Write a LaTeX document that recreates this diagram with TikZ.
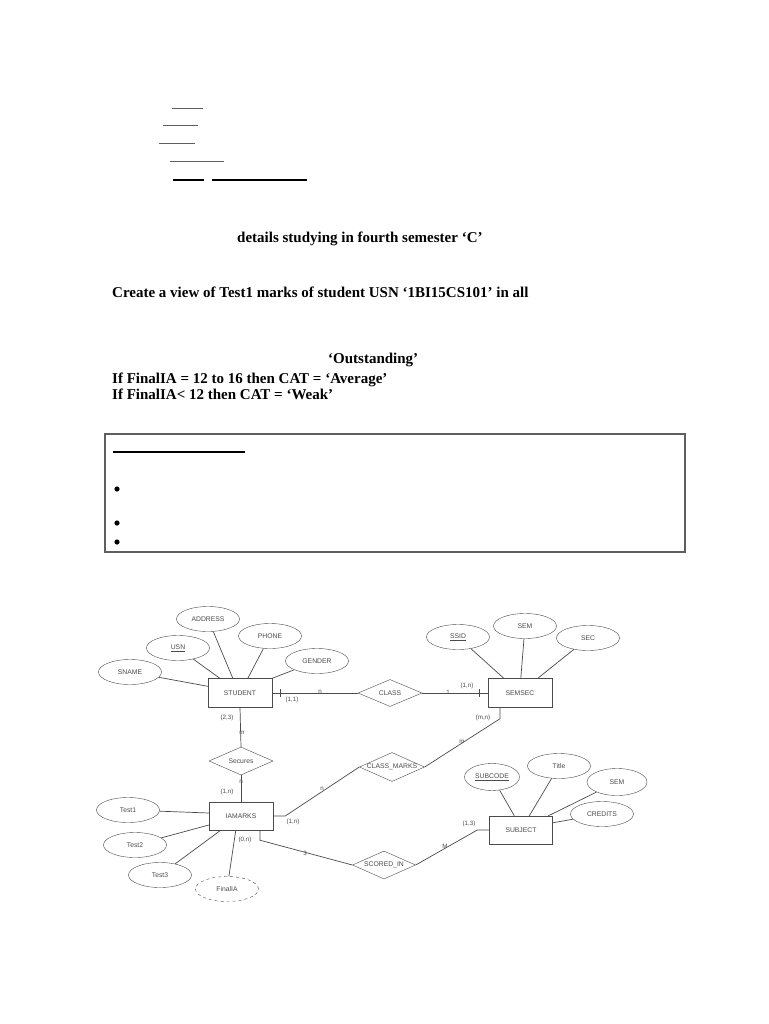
\documentclass[tikz,border=0pt]{standalone}
\usepackage{fontspec}
\setmainfont{Liberation Serif}
\newfontfamily\erfont{Liberation Sans}
\usetikzlibrary{shapes.geometric}
\definecolor{ink}{RGB}{75,75,75}
\definecolor{rulegray}{RGB}{95,95,95}
\newcommand{\drawthick}{\draw[line width=1.6pt]}
\newcommand{\erfontsize}{\erfont\fontsize{6.8}{7}\selectfont}
\tikzset{
  entity/.style={draw=ink, rectangle, minimum width=64pt, minimum height=29pt, inner sep=0pt, font=\erfontsize, text=ink},
  attrib/.style={draw=ink, ellipse, minimum width=63pt, minimum height=25pt, inner sep=0pt, font=\erfontsize, text=ink},
  relship/.style={draw=ink, diamond, aspect=2.3, minimum width=64pt, minimum height=28pt, inner sep=0pt, font=\erfontsize, text=ink},
  card/.style={font=\erfont\fontsize{6.2}{7}\selectfont, text=ink, inner sep=0pt},
  task/.style={font=\bfseries\fontsize{15}{17}\selectfont, anchor=base west, inner sep=0pt},
  erline/.style={draw=ink, line width=0.7pt}
}
\begin{document}
\begin{tikzpicture}[x=1pt,y=-1pt]
\useasboundingbox (0,0) rectangle (768,1024);
\fill[white] (0,0) rectangle (768,1024);
% underlines left from the cut text
\draw[rulegray, line width=1pt] (172,109) -- (203,109);
\draw[rulegray, line width=1pt] (163,126) -- (198,126);
\draw[rulegray, line width=1pt] (159,144) -- (195,144);
\draw[rulegray, line width=1pt] (170,162) -- (224,162);
\drawthick (173,180) -- (204,180);
\drawthick (212,180) -- (307,180);
% query text
\node[task] (q1) at (237,243) {details studying in fourth semester ‘C’};
\node[task] (q2) at (112,297) {Create a view of Test1 marks of student USN ‘1BI15CS101’ in all};
\node[task] (q3) at (328,363) {‘Outstanding’};
\node[task] (q4) at (112,383) {If FinalIA = 12 to 16 then CAT = ‘Average’};
\node[task] (q5) at (112,399) {If FinalIA< 12 then CAT = ‘Weak’};
% box
\draw[rulegray, line width=1.2pt] (105,434) rectangle (685,552);
\drawthick (113,452) -- (245,452);
\foreach \y in {489,523,542}{
  \fill (117,\y) circle (2.6pt);
}
% ER diagram
\node[entity] (st) at (240,693) {STUDENT};
\node[entity] (ss) at (520,693) {SEMSEC};
\node[entity, minimum height=28pt] (im) at (241,816) {IAMARKS};
\node[entity, minimum width=63pt, minimum height=28pt] (sub) at (521,830) {SUBJECT};
\node[relship, minimum height=27pt] (cl) at (390,693) {CLASS};
\node[relship] (se) at (241,761) {Secures};
\node[relship, minimum width=65pt, minimum height=29pt] (cm) at (392,767) {CLASS\_MARKS};
\node[relship, minimum width=63pt] (si) at (384,865) {SCORED\_IN};
\node[attrib] (address) at (208,619) {ADDRESS};
\node[attrib] (usn) at (178,648) {\underline{USN}};
\node[attrib] (phone) at (270,636) {PHONE};
\node[attrib] (gender) at (317,661) {GENDER};
\node[attrib] (sname) at (130,672) {SNAME};
\node[attrib] (ssid) at (458,637) {\underline{SSID}};
\node[attrib] (sem) at (525,626) {SEM};
\node[attrib] (sec) at (588,638) {SEC};
\node[attrib, minimum width=55pt, minimum height=27pt] (subcode) at (492,777) {\underline{SUBCODE}};
\node[attrib] (title) at (559,766) {Title};
\node[attrib, minimum width=60pt, minimum height=27pt] (ssem) at (617,782) {SEM};
\node[attrib] (credits) at (602,814) {CREDITS};
\node[attrib] (test1) at (128,810) {Test1};
\node[attrib] (test2) at (135,845) {Test2};
\node[attrib] (test3) at (160,875) {Test3};
\node[attrib, dashed] (finalia) at (227,889) {FinalIA};
% attributes
\draw[erline] (sname) -- ([yshift=-8pt]st.north west);
\draw[erline] (usn) -- ([xshift=12pt]st.north west);
\draw[erline] (address) -- ([xshift=25pt]st.north west);
\draw[erline] (phone) -- ([xshift=40pt]st.north west);
\draw[erline] (gender) -- (st.north east);
\draw[erline] (ssid) -- ([xshift=16pt]ss.north west);
\draw[erline] (sem) -- ([xshift=33pt]ss.north west);
\draw[erline] (sec) -- ([xshift=50pt]ss.north west);
\draw[erline] (subcode) -- ([xshift=25pt]sub.north west);
\draw[erline] (title) -- ([xshift=40pt]sub.north west);
\draw[erline] (ssem) -- ([xshift=59pt]sub.north west);
\draw[erline] (credits) -- ([yshift=-7pt]sub.north east);
\draw[erline] (test1) -- ([yshift=3pt]im.west);
\draw[erline] (test2) -- ([yshift=-9pt]im.west);
\draw[erline] (test3) -- ([xshift=12pt]im.south west);
\draw[erline] (finalia) -- ([xshift=27pt]im.south west);
% relationships
\draw[erline] (st.south) -- (se.north);
\draw[erline] (se.south) -- (im.north);
\draw[erline] (st.east) -- (cl.west);
\draw[erline] ([xshift=8pt,yshift=4pt]st.east) -- ++(0,8);
\draw[erline] (cl.east) -- (ss.west);
\draw[erline] ([xshift=-8pt,yshift=4pt]ss.west) -- ++(0,8);
\draw[erline] (im.east) -- ([xshift=12pt]im.east) -- (cm.west);
\draw[erline] (cm.east) -- ([xshift=-20pt,yshift=-11pt]ss.south) -- ([xshift=-20pt]ss.south);
\draw[erline] ([xshift=19pt]im.south) -- ([xshift=19pt,yshift=-10pt]im.south) -- (si.west);
\draw[erline] (si.east) -- ([xshift=-12pt]sub.west) -- (sub.west);
% cardinalities
\node[card] (k1) at (227,718) {(2,3)};
\node[card] (k2) at (242,733) {m};
\node[card] (k3) at (241,782) {n};
\node[card] (k4) at (227,792) {(1,n)};
\node[card] (k5) at (292,700) {(1,1)};
\node[card] (k6) at (320,692) {n};
\node[card] (k7) at (448,692) {1};
\node[card] (k8) at (467,686) {(1,n)};
\node[card] (k9) at (483,718) {(m,n)};
\node[card] (k10) at (462,742) {m};
\node[card] (k11) at (322,789) {n};
\node[card] (k12) at (293,822) {(1,n)};
\node[card] (k13) at (245,840) {(0,n)};
\node[card] (k14) at (305,853) {3};
\node[card] (k15) at (445,846) {M};
\node[card] (k16) at (469,824) {(1,3)};
\end{tikzpicture}
\end{document}
